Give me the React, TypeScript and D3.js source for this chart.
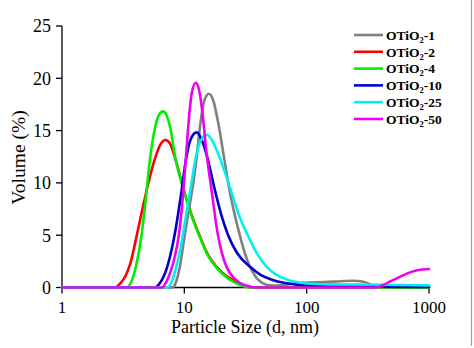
import React from 'react';
import * as d3 from 'd3';

type Pt = [number, number];

const seriesLabels = ['-1', '-2', '-4', '-10', '-25', '-50'];
const seriesColors = ['#808080', '#ff0000', '#00ee00', '#0000cc', '#00f0f0', '#f000f0'];
const xTicks = [1, 10, 100, 1000];
const yTicks = [0, 5, 10, 15, 20, 25];

// OTiO2-1 (gray)
const otio2_1: Pt[] = [
  [1, 0], [8.0, 0], [8.6, 0.6], [9.2, 2], [9.9, 4.4], [10.8, 7.2], [11.8, 9.9], [12.6, 12.4],
  [13.4, 15.3], [14.6, 17.9], [15.9, 18.53], [17.1, 18.0], [19.1, 15.5], [21.2, 12.3], [23.4, 9.3],
  [26, 6.8], [28.4, 5], [31, 3.4], [34.3, 2], [39, 0.9], [44, 0.4], [50, 0.2], [58, 0.18],
  [70, 0.3], [100, 0.48], [140, 0.52], [190, 0.6], [240, 0.65], [290, 0.55], [330, 0.3],
  [370, 0.05], [400, 0], [1000, 0],
];
// OTiO2-2 (red)
const otio2_2: Pt[] = [
  [1, 0], [2.71, 0], [3.0, 0.4], [3.3, 1.1], [3.6, 2.2], [4.07, 4.9], [4.45, 7], [4.9, 9.2],
  [5.4, 11.2], [5.9, 12.7], [6.4, 13.7], [7.02, 14.1], [7.6, 13.8], [8.4, 12.4], [9.2, 10.7],
  [10.1, 9], [11.5, 6.9], [13.4, 4.9], [15.5, 3.2], [18.3, 2], [21, 1.3], [25, 0.7], [30, 0.2],
  [36, 0], [1000, 0],
];
// OTiO2-4 (green)
const otio2_4: Pt[] = [
  [1, 0], [3.37, 0], [3.7, 0.6], [4.02, 2], [4.47, 5], [4.76, 7.7], [5.23, 12.2], [5.74, 15.2],
  [6.2, 16.5], [6.71, 16.84], [7.2, 16.4], [7.7, 15.2], [8.4, 12.5], [9.2, 10.6], [10.1, 8.9],
  [11.5, 6.8], [13.4, 4.8], [15.5, 3.1], [18.3, 1.9], [21, 1.2], [25, 0.55], [30, 0.15],
  [36, 0], [1000, 0],
];
// OTiO2-10 (blue)
const otio2_10: Pt[] = [
  [1, 0], [5.74, 0], [6.3, 0.4], [6.8, 1.1], [7.3, 2.1], [7.9, 3.7], [8.5, 5.6], [9.4, 8.9],
  [10.3, 12.2], [11.3, 14.2], [12.6, 14.83], [14, 14.0], [15.6, 12.2], [17.7, 9.4], [20, 7],
  [22.8, 5], [27, 3.3], [34.3, 2], [42, 1.2], [52, 0.75], [65, 0.45], [80, 0.3], [100, 0.2],
  [200, 0.1], [400, 0.08], [1000, 0.05],
];
// OTiO2-25 (cyan)
const otio2_25: Pt[] = [
  [1, 0], [7.3, 0], [7.9, 0.6], [8.6, 2], [9.4, 4], [10.2, 6.5], [11.3, 9.6], [12.4, 12.4],
  [13.6, 14.0], [15.2, 14.6], [16.8, 14.1], [18.9, 12.8], [21.2, 11.2], [24, 9.3], [28, 6.9],
  [33, 5], [40, 3.1], [47, 2], [56, 1.25], [66, 0.85], [80, 0.55], [100, 0.38], [150, 0.3],
  [300, 0.28], [600, 0.24], [1000, 0.2],
];
// OTiO2-50 (magenta)
const otio2_50: Pt[] = [
  [1, 0], [6.6, 0], [7.1, 0.5], [7.7, 1.5], [8.3, 2.8], [9.07, 5.2], [9.78, 9], [10.3, 12.4],
  [10.8, 15.6], [11.5, 18.6], [12.4, 19.56], [13.3, 18.7], [14.1, 16.6], [15.2, 12.8], [16.7, 9.3],
  [18.7, 5.2], [20.5, 3.1], [22.3, 1.9], [25, 1.0], [28.4, 0.45], [33, 0.15], [40, 0],
  [371, 0], [450, 0.4], [550, 0.9], [650, 1.3], [800, 1.65], [1000, 1.77],
];

const allSeries = [otio2_1, otio2_2, otio2_4, otio2_10, otio2_25, otio2_50];

const serif = '"Liberation Serif", "Times New Roman", "DejaVu Serif", serif';

export default function App() {
  const x = d3.scaleLog().domain([1, 1000]).range([62, 429]);
  const y = d3.scaleLinear().domain([0, 25]).range([287.5, 26]);
  const line = d3
    .line<Pt>()
    .x((d) => x(d[0]))
    .y((d) => y(d[1]))
    .curve(d3.curveMonotoneX);

  const legendY0 = 35;
  const legendDy = 16.8;
  const ts = { fontFamily: serif };

  return (
    <svg
      width={474}
      height={348}
      style={{ position: 'absolute', left: 0, top: 0, background: '#fff', fontFamily: serif }}
    >
      <rect x={0} y={0} width={474} height={348} fill="#fff" />
      <line x1={471.5} x2={471.5} y1={0} y2={346} stroke="#a0a0a0" strokeWidth={1.2} />

      {/* axes */}
      <line x1={62} x2={429} y1={y(0)} y2={y(0)} stroke="#000" strokeWidth={1.3} />
      <line x1={62} x2={62} y1={y(25)} y2={y(0)} stroke="#000" strokeWidth={1.3} />
      {yTicks.map((t) => (
        <g key={'y' + t}>
          <line x1={56} x2={62} y1={y(t)} y2={y(t)} stroke="#000" strokeWidth={1.3} />
          <text x={51} y={y(t)} dy="0.35em" textAnchor="end" fontSize={18} fill="#000" style={ts}>
            {t}
          </text>
        </g>
      ))}
      {xTicks.map((t) => (
        <g key={'x' + t}>
          <line x1={x(t)} x2={x(t)} y1={y(0)} y2={y(0) + 6} stroke="#000" strokeWidth={1.3} />
          <text x={x(t)} y={313} textAnchor="middle" fontSize={17} fill="#000" style={ts}>
            {t}
          </text>
        </g>
      ))}
      <text x={245} y={333} textAnchor="middle" fontSize={18} fill="#000" style={ts}>
        Particle Size (d, nm)
      </text>
      <text
        transform={`translate(25,157.5) rotate(-90)`}
        textAnchor="middle"
        fontSize={19.5}
        fill="#000"
        style={ts}
      >
        Volume (%)
      </text>

      {/* series */}
      {allSeries.map((s, i) => (
        <path
          key={'s' + i}
          d={line(s) || ''}
          fill="none"
          stroke={seriesColors[i]}
          strokeWidth={2.6}
          strokeLinejoin="round"
          strokeLinecap="round"
        />
      ))}

      {/* legend */}
      {seriesLabels.map((lab, i) => {
        const ly = legendY0 + i * legendDy;
        return (
          <g key={'l' + i}>
            <line x1={354} x2={383} y1={ly} y2={ly} stroke={seriesColors[i]} strokeWidth={2.6} />
            <text x={386} y={ly} dy="0.35em" fontSize={13.5} fontWeight="bold" fill="#000" style={ts}>
              OTiO
              <tspan fontSize={8.5} dy={3}>2</tspan>
              <tspan dy={-3}>{lab}</tspan>
            </text>
          </g>
        );
      })}
    </svg>
  );
}
